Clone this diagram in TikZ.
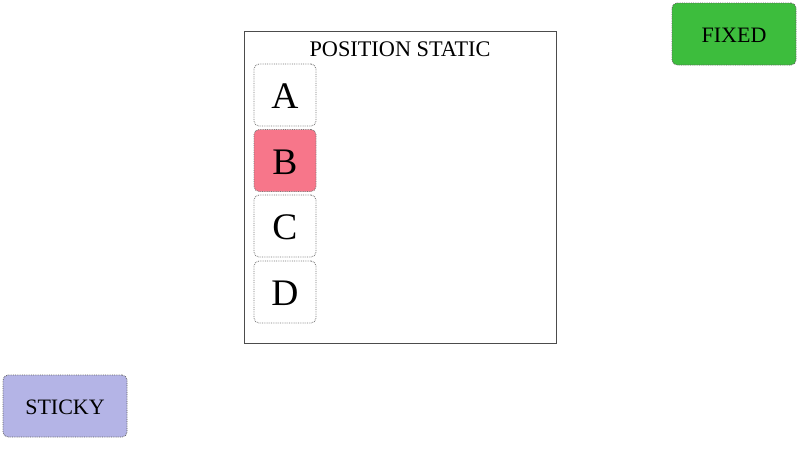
\documentclass[tikz,border=0pt]{standalone}
\usepackage{fontspec}
\setmainfont{Liberation Serif}
\definecolor{pink}{HTML}{F7768A}
\definecolor{fixgreen}{HTML}{3DBD3D}
\definecolor{stickyblue}{HTML}{B4B4E6}
\definecolor{dotgray}{HTML}{777777}
\newcommand{\lowered}[2]{\raisebox{-#1}[\height][\depth]{#2}}
\tikzset{
  item/.style={draw=dotgray, densely dotted, line width=0.8pt, rounded corners=5pt, minimum width=62pt, minimum height=62pt, inner sep=0pt, font=\fontsize{37.5}{37.5}\selectfont},
  posbox/.style={draw=dotgray!80!black, densely dotted, line width=0.8pt, rounded corners=5pt, minimum width=124pt, minimum height=62pt, inner sep=0pt, font=\fontsize{22}{22}\selectfont},
}
\begin{document}
\begin{tikzpicture}[x=1pt,y=-1pt]
\useasboundingbox (0,0) rectangle (800,450);
\node[draw=black!70, line width=0.8pt, minimum width=312pt, minimum height=312pt, inner sep=0pt] (cont) at (400,187) {};
\node[font=\fontsize{22.3}{22.3}\selectfont, inner sep=0pt] (title) at (400,49.5) {POSITION STATIC};
\node[item] (a) at (285,95) {\lowered{1.5pt}{A}};
\node[item, fill=pink] (b) at (285,160.5) {\lowered{1.5pt}{B}};
\node[item] (c) at (285,226) {\lowered{1.5pt}{C}};
\node[item] (d) at (285,292) {\lowered{1.5pt}{D}};
\node[posbox, fill=fixgreen] (fixed) at (734,34) {\lowered{1.5pt}{FIXED}};
\node[posbox, fill=stickyblue] (sticky) at (65,406) {\lowered{1pt}{STICKY}};
\end{tikzpicture}
\end{document}
